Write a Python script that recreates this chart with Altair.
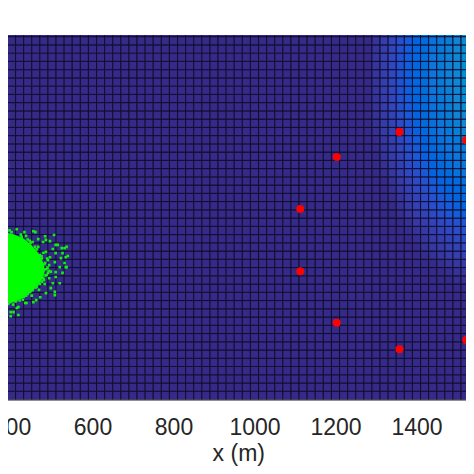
import altair as alt
import pandas as pd

# ---------------- data (metres) ----------------
GRID_X_EDGES = list(range(370, 1551, 20))   # cell edges along x
GRID_Y_EDGES = list(range(10, 911, 20))     # cell edges along y

# field values (0-100) read for the cells at the upper right; all other cells are 0
HEAT_X = [1300, 1320, 1340, 1360, 1380, 1400, 1420, 1440, 1460, 1480, 1500, 1520, 1540]
HEAT_Y = [900, 880, 860, 840, 820, 800, 780, 760, 740, 720, 700, 680, 660, 640, 620,
          600, 580, 560, 540, 520, 500, 480, 460, 440, 420, 400, 380, 360, 340, 320, 300]
HEAT_V = [
    [5, 11, 17, 23, 29, 35, 41, 47, 53, 58, 64, 69, 74],
    [6, 12, 18, 24, 30, 36, 42, 48, 54, 60, 65, 71, 76],
    [6, 12, 18, 25, 31, 37, 43, 49, 55, 61, 67, 73, 78],
    [7, 13, 19, 26, 32, 38, 44, 50, 56, 62, 68, 74, 80],
    [7, 13, 19, 26, 32, 38, 44, 50, 57, 63, 69, 75, 81],
    [7, 13, 19, 26, 32, 38, 44, 50, 57, 63, 69, 75, 81],
    [7, 13, 19, 26, 32, 38, 44, 50, 57, 63, 69, 75, 81],
    [7, 13, 19, 26, 32, 38, 44, 50, 56, 62, 68, 74, 80],
    [6, 12, 18, 25, 31, 37, 43, 49, 55, 61, 67, 73, 78],
    [6, 12, 18, 24, 30, 36, 42, 48, 54, 60, 65, 71, 76],
    [5, 11, 17, 23, 29, 35, 41, 47, 53, 58, 64, 69, 74],
    [5, 11, 17, 22, 28, 34, 40, 46, 51, 57, 62, 67, 71],
    [4, 10, 16, 22, 27, 33, 39, 45, 50, 55, 60, 65, 69],
    [2, 8, 14, 19, 25, 31, 36, 42, 47, 52, 56, 60, 64],
    [1, 7, 12, 18, 24, 29, 35, 40, 45, 50, 54, 58, 61],
    [0, 6, 11, 17, 22, 28, 33, 38, 43, 47, 52, 55, 58],
    [0, 4, 10, 15, 21, 26, 31, 36, 41, 45, 49, 53, 56],
    [0, 3, 8, 14, 19, 24, 29, 34, 39, 43, 47, 50, 53],
    [0, 0, 5, 11, 16, 21, 25, 30, 34, 38, 42, 45, 47],
    [0, 0, 4, 9, 14, 19, 23, 28, 32, 35, 39, 42, 44],
    [0, 0, 2, 7, 12, 17, 21, 25, 29, 33, 36, 39, 41],
    [0, 0, 0, 5, 10, 14, 19, 23, 27, 30, 33, 36, 38],
    [0, 0, 0, 3, 8, 12, 17, 21, 24, 28, 31, 33, 35],
    [0, 0, 0, 0, 4, 8, 12, 16, 19, 22, 25, 27, 29],
    [0, 0, 0, 0, 2, 6, 9, 13, 17, 20, 22, 25, 26],
    [0, 0, 0, 0, 0, 3, 7, 11, 13, 17, 19, 22, 23],
    [0, 0, 0, 0, 0, 0, 5, 8, 11, 14, 17, 19, 20],
    [0, 0, 0, 0, 0, 0, 2, 5, 8, 11, 14, 16, 17],
    [0, 0, 0, 0, 0, 0, 0, 1, 3, 6, 8, 10, 11],
    [0, 0, 0, 0, 0, 0, 0, 0, 1, 3, 5, 7, 8],
    [0, 0, 0, 0, 0, 0, 0, 0, 0, 1, 2, 4, 5],
]

# dense core of the green particle cloud (outline)
CORE_X = [370, 381, 405, 429, 449, 466, 478, 483]
CORE_TOP = [418, 416, 411, 401, 385, 365, 343, 324]
CORE_BOTTOM = [237, 239, 246, 256, 271, 287, 305, 324]

# scattered green particles
GREEN_PTS = [
    (413, 423), (432, 416), (454, 418), (483, 406), (505, 409), (466, 399), (478, 392),
    (495, 394), (514, 385), (524, 377), (536, 380), (502, 375), (485, 368), (509, 365),
    (526, 365), (495, 355), (522, 353), (539, 358), (507, 343), (531, 341), (519, 331),
    (534, 331), (509, 319), (526, 317), (502, 292), (519, 292), (497, 280), (507, 271),
    (485, 268), (471, 258), (454, 246), (434, 244), (417, 234), (405, 222), (398, 212),
    (417, 215), (461, 292), (478, 305), (490, 317), (473, 324), (483, 341), (490, 348),
    (400, 416), (459, 416), (485, 397), (509, 385), (531, 377), (534, 355), (536, 331),
    (509, 307), (507, 263), (461, 251), (437, 244), (413, 232), (398, 222),
    (440, 398), (458, 380), (470, 360), (489, 330), (487, 312), (470, 290), (452, 275),
    (436, 262), (420, 250), (392, 242), (395, 420), (423, 410), (445, 395), (475, 352),
    (492, 322), (480, 300), (460, 282), (440, 266), (410, 248),
    (425, 404), (447, 390), (462, 374), (474, 357), (481, 338), (486, 326), (484, 311),
    (475, 296), (462, 284), (446, 271), (430, 259), (412, 251), (394, 245), (436, 407),
    (452, 392), (466, 380), (479, 366), (488, 352), (493, 336), (497, 320), (493, 304),
    (482, 290), (468, 276), (450, 262), (428, 252), (404, 240), (388, 236),
]
GREEN_X = [p[0] for p in GREEN_PTS]
GREEN_Y = [p[1] for p in GREEN_PTS]

# red receivers
RED_X = [1113, 1113, 1203, 1203, 1358, 1358, 1523, 1523]
RED_Y = [472, 321, 598, 196, 659, 132, 639, 154]

X_TICKS = [400, 600, 800, 1000, 1200, 1400]

# ---------------- tables ----------------
lookup = {(x, y): v for y, row in zip(HEAT_Y, HEAT_V) for x, v in zip(HEAT_X, row)}
cells = []
for i in range(len(GRID_X_EDGES) - 1):
    for j in range(len(GRID_Y_EDGES) - 1):
        x0, x1 = GRID_X_EDGES[i], GRID_X_EDGES[i + 1]
        y0, y1 = GRID_Y_EDGES[j], GRID_Y_EDGES[j + 1]
        cx, cy = (x0 + x1) // 2, (y0 + y1) // 2
        cells.append(dict(x0=x0, x1=x1, y0=y0, y1=y1, v=lookup.get((cx, cy), 0)))
cells = pd.DataFrame(cells)
core = pd.DataFrame(dict(x=CORE_X, top=CORE_TOP, bottom=CORE_BOTTOM))
green = pd.DataFrame(dict(x=GREEN_X, y=GREEN_Y))
red = pd.DataFrame(dict(x=RED_X, y=RED_Y))

FONT = "Liberation Sans"
xscale = alt.Scale(domain=[380, 1540], nice=False, zero=False)
yscale = alt.Scale(domain=[10, 894], nice=False, zero=False)

xaxis = alt.Axis(values=X_TICKS, format="d", title="x (m)", labelFontSize=23, titleFontSize=23,
                 labelFont=FONT, titleFont=FONT, labelColor="#262626", titleColor="#262626",
                 titleFontWeight="normal", ticks=False, tickSize=0, grid=False, domain=True,
                 domainColor="#222222", labelPadding=17, titlePadding=3,
                 labelFlush=False, labelOverlap=False)

parula = ["#352a87", "#3637a0", "#3243ba", "#2053d4", "#0363e1",
          "#0d75dc", "#1485d4", "#0998d1", "#06a7c6"]

heat = alt.Chart(cells).mark_rect(stroke="#120e30", strokeWidth=1, clip=True).encode(
    x=alt.X("x0:Q", scale=xscale, axis=xaxis),
    x2="x1:Q",
    y=alt.Y("y0:Q", scale=yscale, axis=None),
    y2="y1:Q",
    color=alt.Color("v:Q", scale=alt.Scale(domain=[0, 8, 17, 26, 34, 50, 66, 84, 100],
                                           range=parula), legend=None),
)

core_area = alt.Chart(core).mark_area(color="#00ff00", opacity=1, clip=True).encode(
    x=alt.X("x:Q", scale=xscale),
    y=alt.Y("top:Q", scale=yscale),
    y2="bottom:Q",
)

green_pts = alt.Chart(green).mark_square(color="#10f010", size=7, opacity=1, clip=True).encode(
    x=alt.X("x:Q", scale=xscale),
    y=alt.Y("y:Q", scale=yscale),
)

red_pts = alt.Chart(red).mark_circle(color="#ff0000", size=65, opacity=1, clip=True).encode(
    x=alt.X("x:Q", scale=xscale),
    y=alt.Y("y:Q", scale=yscale),
)

# plot area: 0.405 px per metre horizontally; svg kept at 458 x 458 so the page fits
chart = alt.layer(heat, core_area, green_pts, red_pts).properties(
    width=469.8,
    height=364.5,
    autosize=alt.AutoSizeParams(type="none"),
    padding={"left": -4.6, "top": 27, "right": -7.2, "bottom": 66.5},
    background="white",
).configure_view(stroke=None)

chart.save("out.html", embed_options={"renderer": "svg", "actions": False})
